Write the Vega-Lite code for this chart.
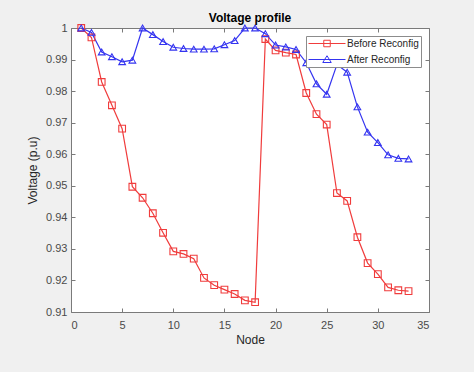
{
  "$schema": "https://vega.github.io/schema/vega-lite/v6.json",
  "width": 358,
  "height": 284,
  "autosize": "none",
  "padding": {"left": 71, "top": 28, "right": 45, "bottom": 60},
  "background": "#f0f0f0",
  "config": {
    "font": "Liberation Sans",
    "view": {"fill": "white", "stroke": "#7a7a7a", "strokeWidth": 1},
    "axis": {"labelFont": "Liberation Sans", "titleFont": "Liberation Sans", "labelColor": "#4a4a4a", "titleColor": "#262626", "labelFontSize": 11, "titleFontSize": 12, "titleFontWeight": "normal", "tickColor": "#7a7a7a", "domain": false, "grid": false, "tickSize": -4},
    "legend": {"labelFont": "Liberation Sans", "labelFontSize": 10, "labelColor": "#262626"}
  },
  "title": {"text": "Voltage profile", "fontSize": 12, "fontWeight": "bold", "color": "#000000", "font": "Liberation Sans", "offset": -3, "anchor": "middle"},
  "data": {"values": [
    {"node": 1, "voltage": 1.0, "series": "Before Reconfig"},
    {"node": 2, "voltage": 0.997, "series": "Before Reconfig"},
    {"node": 3, "voltage": 0.9829, "series": "Before Reconfig"},
    {"node": 4, "voltage": 0.9755, "series": "Before Reconfig"},
    {"node": 5, "voltage": 0.9681, "series": "Before Reconfig"},
    {"node": 6, "voltage": 0.9497, "series": "Before Reconfig"},
    {"node": 7, "voltage": 0.9462, "series": "Before Reconfig"},
    {"node": 8, "voltage": 0.9413, "series": "Before Reconfig"},
    {"node": 9, "voltage": 0.9351, "series": "Before Reconfig"},
    {"node": 10, "voltage": 0.9292, "series": "Before Reconfig"},
    {"node": 11, "voltage": 0.9284, "series": "Before Reconfig"},
    {"node": 12, "voltage": 0.9269, "series": "Before Reconfig"},
    {"node": 13, "voltage": 0.9208, "series": "Before Reconfig"},
    {"node": 14, "voltage": 0.9185, "series": "Before Reconfig"},
    {"node": 15, "voltage": 0.9171, "series": "Before Reconfig"},
    {"node": 16, "voltage": 0.9157, "series": "Before Reconfig"},
    {"node": 17, "voltage": 0.9137, "series": "Before Reconfig"},
    {"node": 18, "voltage": 0.9131, "series": "Before Reconfig"},
    {"node": 19, "voltage": 0.9965, "series": "Before Reconfig"},
    {"node": 20, "voltage": 0.9929, "series": "Before Reconfig"},
    {"node": 21, "voltage": 0.9922, "series": "Before Reconfig"},
    {"node": 22, "voltage": 0.9916, "series": "Before Reconfig"},
    {"node": 23, "voltage": 0.9794, "series": "Before Reconfig"},
    {"node": 24, "voltage": 0.9727, "series": "Before Reconfig"},
    {"node": 25, "voltage": 0.9694, "series": "Before Reconfig"},
    {"node": 26, "voltage": 0.9477, "series": "Before Reconfig"},
    {"node": 27, "voltage": 0.9452, "series": "Before Reconfig"},
    {"node": 28, "voltage": 0.9337, "series": "Before Reconfig"},
    {"node": 29, "voltage": 0.9255, "series": "Before Reconfig"},
    {"node": 30, "voltage": 0.922, "series": "Before Reconfig"},
    {"node": 31, "voltage": 0.9178, "series": "Before Reconfig"},
    {"node": 32, "voltage": 0.9169, "series": "Before Reconfig"},
    {"node": 33, "voltage": 0.9166, "series": "Before Reconfig"},
    {"node": 1, "voltage": 1.0, "series": "After Reconfig"},
    {"node": 2, "voltage": 0.9986, "series": "After Reconfig"},
    {"node": 3, "voltage": 0.9924, "series": "After Reconfig"},
    {"node": 4, "voltage": 0.9909, "series": "After Reconfig"},
    {"node": 5, "voltage": 0.9893, "series": "After Reconfig"},
    {"node": 6, "voltage": 0.9898, "series": "After Reconfig"},
    {"node": 7, "voltage": 1.0, "series": "After Reconfig"},
    {"node": 8, "voltage": 0.9979, "series": "After Reconfig"},
    {"node": 9, "voltage": 0.9957, "series": "After Reconfig"},
    {"node": 10, "voltage": 0.9939, "series": "After Reconfig"},
    {"node": 11, "voltage": 0.9935, "series": "After Reconfig"},
    {"node": 12, "voltage": 0.9933, "series": "After Reconfig"},
    {"node": 13, "voltage": 0.9933, "series": "After Reconfig"},
    {"node": 14, "voltage": 0.9934, "series": "After Reconfig"},
    {"node": 15, "voltage": 0.9947, "series": "After Reconfig"},
    {"node": 16, "voltage": 0.996, "series": "After Reconfig"},
    {"node": 17, "voltage": 1.0, "series": "After Reconfig"},
    {"node": 18, "voltage": 1.0, "series": "After Reconfig"},
    {"node": 19, "voltage": 0.9982, "series": "After Reconfig"},
    {"node": 20, "voltage": 0.9946, "series": "After Reconfig"},
    {"node": 21, "voltage": 0.994, "series": "After Reconfig"},
    {"node": 22, "voltage": 0.9932, "series": "After Reconfig"},
    {"node": 23, "voltage": 0.989, "series": "After Reconfig"},
    {"node": 24, "voltage": 0.9823, "series": "After Reconfig"},
    {"node": 25, "voltage": 0.979, "series": "After Reconfig"},
    {"node": 26, "voltage": 0.9884, "series": "After Reconfig"},
    {"node": 27, "voltage": 0.986, "series": "After Reconfig"},
    {"node": 28, "voltage": 0.975, "series": "After Reconfig"},
    {"node": 29, "voltage": 0.967, "series": "After Reconfig"},
    {"node": 30, "voltage": 0.9637, "series": "After Reconfig"},
    {"node": 31, "voltage": 0.9598, "series": "After Reconfig"},
    {"node": 32, "voltage": 0.9587, "series": "After Reconfig"},
    {"node": 33, "voltage": 0.9585, "series": "After Reconfig"}
  ]},
  "layer": [
    {
      "mark": {"type": "line", "strokeWidth": 1.2, "clip": false},
      "encoding": {
        "x": {"field": "node", "type": "quantitative", "scale": {"domain": [0, 35], "nice": false, "zero": false}, "axis": {"title": "Node", "values": [0, 5, 10, 15, 20, 25, 30, 35], "labelPadding": 11, "titlePadding": 4, "orient": "bottom"}},
        "y": {"field": "voltage", "type": "quantitative", "scale": {"domain": [0.91, 1], "nice": false, "zero": false}, "axis": {"title": "Voltage (p.u)", "values": [0.91, 0.92, 0.93, 0.94, 0.95, 0.96, 0.97, 0.98, 0.99, 1], "format": "~g", "labelPadding": 8, "titlePadding": 6, "orient": "left"}},
        "color": {"field": "series", "type": "nominal", "scale": {"domain": ["Before Reconfig", "After Reconfig"], "range": ["#f03c3c", "#3434f0"]}, "legend": null}
      }
    },
    {
      "mark": {"type": "point", "filled": false, "strokeWidth": 1.1, "opacity": 1, "clip": false},
      "encoding": {
        "x": {"field": "node", "type": "quantitative", "axis": {"orient": "top", "labels": false, "title": null, "values": [0, 5, 10, 15, 20, 25, 30, 35]}},
        "y": {"field": "voltage", "type": "quantitative", "axis": {"orient": "right", "labels": false, "title": null, "values": [0.91, 0.92, 0.93, 0.94, 0.95, 0.96, 0.97, 0.98, 0.99, 1]}},
        "color": {"field": "series", "type": "nominal", "scale": {"domain": ["Before Reconfig", "After Reconfig"], "range": ["#f03c3c", "#3434f0"]}, "legend": null},
        "shape": {"field": "series", "type": "nominal", "scale": {"domain": ["Before Reconfig", "After Reconfig"], "range": ["square", "triangle-up"]}, "legend": null},
        "size": {"value": 45}
      }
    },
    {
      "transform": [{"filter": "datum.node < 0"}],
      "mark": {"type": "point", "filled": false, "strokeWidth": 1, "opacity": 1},
      "encoding": {
        "x": {"field": "node", "type": "quantitative", "axis": null},
        "y": {"field": "voltage", "type": "quantitative", "axis": null},
        "color": {"field": "series", "type": "nominal", "scale": {"domain": ["Before Reconfig", "After Reconfig"], "range": ["#f03c3c", "#3434f0"]},
          "legend": {"title": null, "orient": "top-right", "offset": 8, "symbolSize": 100, "symbolStrokeWidth": 1, "labelOffset": 28, "padding": 2, "rowPadding": 4, "fillColor": "white", "strokeColor": "#8c8c8c", "cornerRadius": 0}},
        "shape": {"field": "series", "type": "nominal", "scale": {"domain": ["Before Reconfig", "After Reconfig"], "range": ["M-1,0H6.4M2.05,-0.65H3.35V0.65H2.05Z", "M-1,0H6.4M2.7,-0.75L3.55,0.6H1.85Z"]},
          "legend": {"title": null, "orient": "top-right", "offset": 8, "symbolSize": 100, "symbolStrokeWidth": 1, "labelOffset": 28, "padding": 2, "rowPadding": 4, "fillColor": "white", "strokeColor": "#8c8c8c", "cornerRadius": 0}}
      }
    }
  ],
  "resolve": {"axis": {"x": "independent", "y": "independent"}, "scale": {"shape": "independent", "color": "independent"}}
}
